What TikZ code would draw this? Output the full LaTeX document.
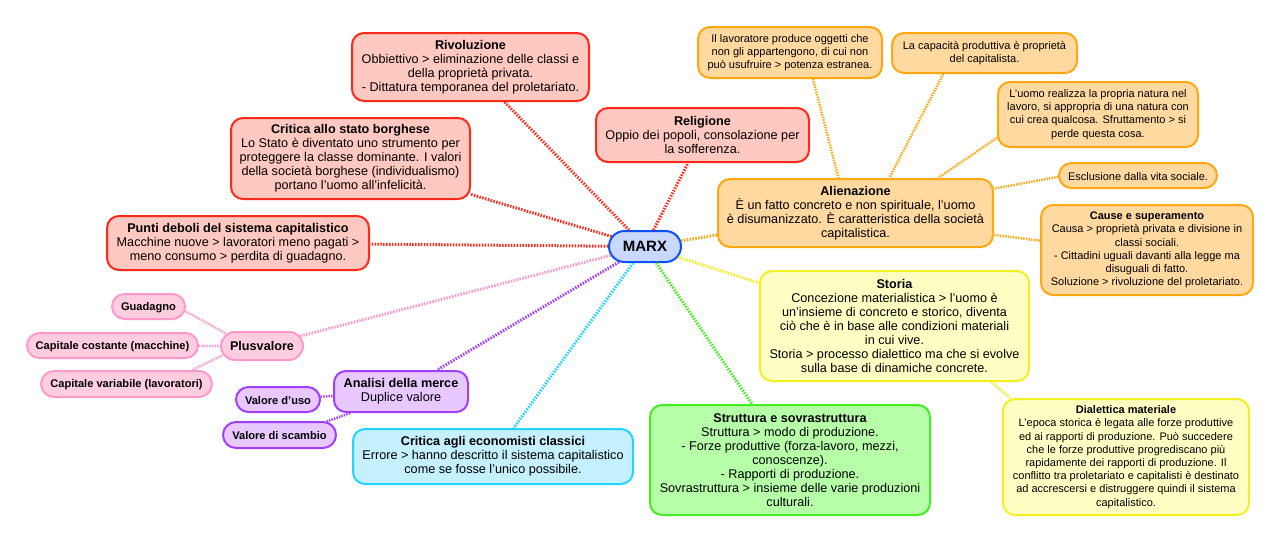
\documentclass[tikz,border=0pt]{standalone}
\usepackage{fontspec}
\setmainfont{Liberation Sans}
\usetikzlibrary{shapes.misc}
\definecolor{redline}{HTML}{FF2A1A}
\definecolor{redfill}{HTML}{FFC8C0}
\definecolor{orangeline}{HTML}{FFA812}
\definecolor{orangefill}{HTML}{FFD9A0}
\definecolor{yellowline}{HTML}{F4F020}
\definecolor{yellowfill}{HTML}{FFFFC4}
\definecolor{greenline}{HTML}{44EE22}
\definecolor{greenfill}{HTML}{B6FFA8}
\definecolor{cyanline}{HTML}{22D4FF}
\definecolor{cyanfill}{HTML}{C4F0FF}
\definecolor{purpleline}{HTML}{A040FF}
\definecolor{purplefill}{HTML}{E8C8FF}
\definecolor{pinkline}{HTML}{FF99CC}
\definecolor{pinkfill}{HTML}{FFCCE0}
\definecolor{blueline}{HTML}{0A50FF}
\definecolor{bluefill}{HTML}{C8D8FF}
\begin{document}
\begin{tikzpicture}[x=1pt, y=-1pt,
  big/.style={shape=rectangle, rounded corners=12pt, line width=2pt, align=center, inner sep=0pt, execute at begin node={\rule{0pt}{13pt}}, font=\fontsize{12.65}{14}\selectfont},
  small/.style={shape=rectangle, rounded corners=12pt, line width=2pt, align=center, inner sep=0pt, execute at begin node={\rule{0pt}{11pt}}, font=\fontsize{11}{13.2}\selectfont},
  pill/.style={shape=rounded rectangle, line width=2pt, align=center, inner sep=0pt, execute at begin node={\rule{0pt}{10pt}}, font=\fontsize{11}{13}\selectfont},
  boldpill/.style={pill, font=\fontsize{11.1}{13}\selectfont\bfseries},
  link/.style={line width=3pt, dash pattern=on 1.5pt off 1.4pt},
  sublink/.style={line width=2.5pt, dash pattern=on 1.4pt off 1.2pt}]
\useasboundingbox (0,0) rectangle (1280,542);

\node [shape=rounded rectangle, draw=blueline, fill=bluefill, line width=2pt, inner sep=0pt, minimum width=72pt, minimum height=31pt, font=\fontsize{15}{18}\selectfont\bfseries] (NMarx) at (645,246.5) {MARX};

\node [big, draw=redline, fill=redfill, minimum width=237pt, minimum height=68pt] (NRiv) at (470.5,67) {\textbf{Rivoluzione}\\Obbiettivo > eliminazione delle classi e\\della proprietà privata.\\- Dittatura temporanea del proletariato.};
\node [big, draw=redline, fill=redfill, minimum width=213pt, minimum height=54pt] (NRel) at (702.5,135) {\textbf{Religione}\\Oppio dei popoli, consolazione per\\la sofferenza.};
\node [big, draw=redline, fill=redfill, minimum width=239pt, minimum height=81pt] (NSta) at (350.5,158.5) {\textbf{Critica allo stato borghese}\\Lo Stato è diventato uno strumento per\\proteggere la classe dominante. I valori\\della società borghese (individualismo)\\portano l'uomo all'infelicità.};
\node [big, draw=redline, fill=redfill, minimum width=262pt, minimum height=54pt] (NPun) at (238,243) {\textbf{Punti deboli del sistema capitalistico}\\Macchine nuove > lavoratori meno pagati >\\meno consumo > perdita di guadagno.};

\node [pill, draw=pinkline, fill=pinkfill, minimum width=82pt, minimum height=28pt, font=\fontsize{12.65}{14}\selectfont\bfseries] (NPlu) at (262,346) {Plusvalore};
\node [boldpill, draw=pinkline, fill=pinkfill, minimum width=73pt, minimum height=25pt] (NGua) at (148.5,306.5) {Guadagno};
\node [boldpill, draw=pinkline, fill=pinkfill, minimum width=171pt, minimum height=25pt] (NCos) at (112.5,345.5) {Capitale costante (macchine)};
\node [boldpill, draw=pinkline, fill=pinkfill, minimum width=171pt, minimum height=26pt] (NVar) at (126.5,384) {Capitale variabile (lavoratori)};

\node [big, draw=purpleline, fill=purplefill, minimum width=134pt, minimum height=41pt] (NAna) at (401,391.5) {\textbf{Analisi della merce}\\Duplice valore};
\node [boldpill, draw=purpleline, fill=purplefill, minimum width=84pt, minimum height=25pt] (NUso) at (278,399.5) {Valore d'uso};
\node [boldpill, draw=purpleline, fill=purplefill, minimum width=113pt, minimum height=26pt] (NSca) at (279.5,435) {Valore di scambio};

\node [big, draw=cyanline, fill=cyanfill, minimum width=280pt, minimum height=55pt] (NEco) at (493,456.5) {\textbf{Critica agli economisti classici}\\Errore > hanno descritto il sistema capitalistico\\come se fosse l'unico possibile.};
\node [big, draw=greenline, fill=greenfill, minimum width=280pt, minimum height=110pt] (NStr) at (790,460) {\textbf{Struttura e sovrastruttura}\\Struttura > modo di produzione.\\- Forze produttive (forza-lavoro, mezzi,\\conoscenze).\\- Rapporti di produzione.\\Sovrastruttura > insieme delle varie produzioni\\culturali.};

\node [big, draw=yellowline, fill=yellowfill, minimum width=269pt, minimum height=110pt] (NSto) at (894.5,326) {\textbf{Storia}\\Concezione materialistica > l'uomo è\\un'insieme di concreto e storico, diventa\\ciò che è in base alle condizioni materiali\\in cui vive.\\Storia > processo dialettico ma che si evolve\\sulla base di dinamiche concrete.};
\node [small, draw=yellowline, fill=yellowfill, minimum width=246pt, minimum height=116pt] (NDia) at (1126,457) {\textbf{Dialettica materiale}\\L'epoca storica è legata alle forze produttive\\ed ai rapporti di produzione. Può succedere\\che le forze produttive progrediscano più\\rapidamente dei rapporti di produzione. Il\\conflitto tra proletariato e capitalisti è destinato\\ad accrescersi e distruggere quindi il sistema\\capitalistico.};

\node [big, draw=orangeline, fill=orangefill, minimum width=275pt, minimum height=68pt] (NAli) at (855.5,213) {\textbf{Alienazione}\\È un fatto concreto e non spirituale, l'uomo\\è disumanizzato. È caratteristica della società\\capitalistica.};
\node [small, draw=orangeline, fill=orangefill, minimum width=184pt, minimum height=51pt] (NLav) at (790,52.5) {Il lavoratore produce oggetti che\\non gli appartengono, di cui non\\può usufruire > potenza estranea.};
\node [small, draw=orangeline, fill=orangefill, minimum width=185pt, minimum height=40pt] (NCap) at (984.5,53) {La capacità produttiva è proprietà\\del capitalista.};
\node [small, draw=orangeline, fill=orangefill, minimum width=200pt, minimum height=65pt] (NUom) at (1098,114.5) {L'uomo realizza la propria natura nel\\lavoro, si appropria di una natura con\\cui crea qualcosa. Sfruttamento > si\\perde questa cosa.};
\node [pill, draw=orangeline, fill=orangefill, minimum width=158pt, minimum height=25pt] (NEsc) at (1138,175.5) {Esclusione dalla vita sociale.};
\node [small, draw=orangeline, fill=orangefill, minimum width=212pt, minimum height=90pt] (NCau) at (1147,250) {\textbf{Cause e superamento}\\Causa > proprietà privata e divisione in\\classi sociali.\\- Cittadini uguali davanti alla legge ma\\disuguali di fatto.\\Soluzione > rivoluzione del proletariato.};

\draw[link, redline] (NMarx) to (NRiv);
\draw[link, redline] (NMarx) to (NRel);
\draw[link, redline] (NMarx) to (NSta);
\draw[link, redline] (NMarx) to (NPun);
\draw[link, pinkline] (NMarx) to (NPlu);
\draw[link, purpleline] (NMarx) to (NAna);
\draw[link, cyanline] (NMarx) to (NEco);
\draw[link, greenline] (NMarx) to (NStr);
\draw[link, yellowline] (NMarx) to (NSto);
\draw[link, orangeline] (NMarx) to (NAli);

\draw[sublink, pinkline] (NGua.-7) to (NPlu.161);
\draw[sublink, pinkline] (NCos) to (NPlu);
\draw[sublink, pinkline] (NVar.12) to (NPlu.193);
\draw[sublink, purpleline] (NUso) to (NAna);
\draw[sublink, purpleline] (NSca.16) to (NAna.203);
\draw[sublink, yellowline] (NSto.-30.5) to (NDia.153.4);
\draw[sublink, orangeline] (NLav.-49) to (NAli.116);
\draw[sublink, orangeline] (NCap.207) to (NAli.46);
\draw[sublink, orangeline] (NUom.193) to (NAli.23);
\draw[sublink, orangeline] (NEsc.181.8) to (NAli.10.3);
\draw[sublink, orangeline] (NCau.175.7) to (NAli.-9.5);
\end{tikzpicture}
\end{document}
